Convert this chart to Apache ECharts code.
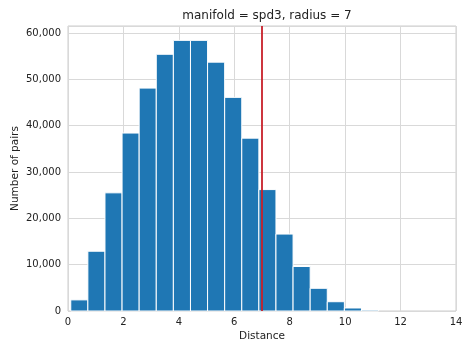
<!DOCTYPE html>
<html><head><meta charset="utf-8">
<script src="https://cdn.jsdelivr.net/npm/echarts@6/dist/echarts.min.js"></script>
<style>html,body{margin:0;padding:0;background:#fff}#c{width:474px;height:355px}</style>
</head><body><div id="c"></div>
<script>
// Histogram bin edges (left edge of each bin) and width
const binStart = 0.1;
const binWidth = 0.617;
const counts = [2400, 12900, 25500, 38400, 48100, 55400, 58400, 58400, 53700, 46100, 37300, 26200, 16600, 9600, 4900, 2000, 650, 200];
const radius = 7;
const xTicks = [0, 2, 4, 6, 8, 10, 12, 14];
const yTicks = [0, 10000, 20000, 30000, 40000, 50000, 60000];
const title = 'manifold = spd3, radius = 7';

const data = counts.map((c, i) => [binStart + i * binWidth, binStart + (i + 1) * binWidth, c]);
const font = 'DejaVu Sans';
const chart = echarts.init(document.getElementById('c'), null, {renderer: 'canvas'});
chart.setOption({
  animation: false,
  backgroundColor: '#fff',
  title: {text: title, left: 262, top: 5, textAlign: 'center',
    textStyle: {fontFamily: font, fontSize: 12, fontWeight: 'normal', color: '#222'}},
  grid: {left: 68, right: 18, top: 26, bottom: 44, show: true, borderColor: '#cccccc', borderWidth: 1,
    containLabel: false, outerBoundsMode: 'none'},
  xAxis: {type: 'value', min: 0, max: 14, interval: 2, name: 'Distance', nameLocation: 'middle', nameGap: 20,
    nameMoveOverlap: false,
    nameTextStyle: {fontFamily: font, fontSize: 10.5, color: '#222'},
    axisLine: {show: false}, axisTick: {show: false},
    axisLabel: {fontFamily: font, fontSize: 10, color: '#222', margin: 6},
    splitLine: {show: true, lineStyle: {color: '#d9d9d9', width: 1}}},
  yAxis: {type: 'value', min: 0, max: 61500, interval: 10000, name: 'Number of pairs', nameLocation: 'middle', nameGap: 47,
    nameMoveOverlap: false,
    nameTextStyle: {fontFamily: font, fontSize: 10.5, color: '#222'},
    axisLine: {show: false}, axisTick: {show: false},
    axisLabel: {fontFamily: font, fontSize: 10, color: '#222', margin: 7,
      formatter: v => yTicks.includes(v) ? v.toLocaleString('en-US') : ''},
    splitLine: {show: true, lineStyle: {color: '#d9d9d9', width: 1}}},
  series: [{
    type: 'custom',
    data: data,
    encode: {x: [0, 1], y: 2},
    renderItem: function (params, api) {
      const p0 = api.coord([api.value(0), api.value(2)]);
      const p1 = api.coord([api.value(1), 0]);
      return {type: 'rect', shape: {x: p0[0], y: p0[1], width: p1[0] - p0[0], height: p1[1] - p0[1]},
        style: {fill: '#1f77b4', stroke: '#ffffff', lineWidth: 1}};
    },
    z: 2
  }, {
    type: 'line', data: [], z: 5,
    markLine: {silent: true, symbol: 'none', label: {show: false},
      lineStyle: {color: '#c8202a', width: 1.8, type: 'solid'},
      data: [{xAxis: radius}]}
  }]
});
</script></body></html>
